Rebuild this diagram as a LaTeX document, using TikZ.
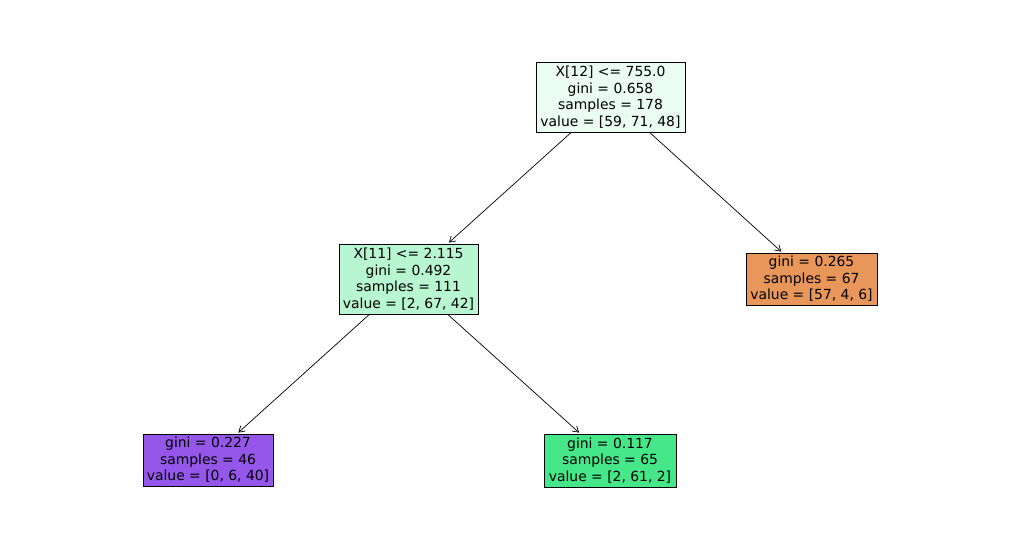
\documentclass[tikz,border=0pt]{standalone}
\usepackage{fontspec}
\setmainfont{DejaVu Sans}
\usetikzlibrary{arrows.meta}
\definecolor{croot}{RGB}{235,252,242}
\definecolor{cmid}{RGB}{183,246,209}
\definecolor{corange}{RGB}{233,150,90}
\definecolor{cpurple}{RGB}{148,87,233}
\definecolor{cgreen}{RGB}{70,231,137}
\tikzset{
  treenode/.style={draw=black, line width=0.8pt, rectangle, align=center, inner xsep=2pt, inner ysep=0pt,
    font=\fontsize{13.9pt}{16.5pt}\selectfont},
  edge/.style={line width=0.7pt, -{Straight Barb[length=5.6pt,width=7pt,line width=0.7pt]}, shorten >=1.5pt}
}
\begin{document}
\begin{tikzpicture}[x=1pt,y=1pt]
\useasboundingbox (0,0) rectangle (1018,-558);
\node[treenode, fill=croot, minimum width=149pt, minimum height=70pt] (root) at (610.5,-97) {X[12] <= 755.0\\gini = 0.658\\samples = 178\\value = [59, 71, 48]};
\node[treenode, fill=cmid, minimum width=139pt, minimum height=70pt] (mid) at (408.5,-279) {X[11] <= 2.115\\gini = 0.492\\samples = 111\\value = [2, 67, 42]};
\node[treenode, fill=corange, minimum width=131pt, minimum height=52pt] (right) at (811.5,-279) {gini = 0.265\\samples = 67\\value = [57, 4, 6]};
\node[treenode, fill=cpurple, minimum width=130pt, minimum height=52pt] (ll) at (208,-460) {gini = 0.227\\samples = 46\\value = [0, 6, 40]};
\node[treenode, fill=cgreen, minimum width=132pt, minimum height=53pt] (lr) at (610,-460.5) {gini = 0.117\\samples = 65\\value = [2, 61, 2]};
\draw[edge] (root) -- (mid);
\draw[edge] (root) -- (right);
\draw[edge] (mid) -- (ll);
\draw[edge] (mid) -- (lr);
\end{tikzpicture}
\end{document}
